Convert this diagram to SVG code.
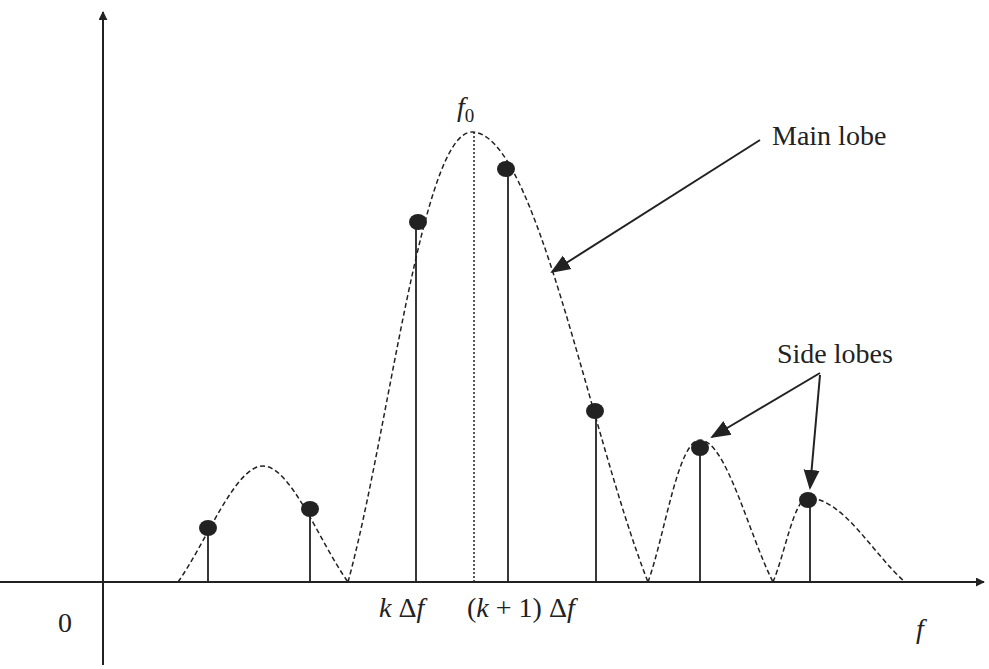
<svg xmlns="http://www.w3.org/2000/svg" width="989" height="669" viewBox="0 0 989 669">
<style>
.ax{stroke:#222;stroke-width:2;fill:none}
.lobe{stroke:#222;stroke-width:1.5;fill:none;stroke-dasharray:5,3}
.stem{stroke:#222;stroke-width:1.8}
.dot{fill:#222}
.t{font-family:"Liberation Serif",serif;font-size:28px;fill:#222}
.i{font-style:italic}
</style>
<defs>
<marker id="ah" viewBox="0 0 10 10" refX="9" refY="5" markerWidth="9" markerHeight="9" orient="auto" markerUnits="userSpaceOnUse"><path d="M0,0 L10,5 L0,10 z" fill="#222"/></marker>
<marker id="ah2" viewBox="0 0 10 10" refX="9" refY="5" markerWidth="20" markerHeight="20" orient="auto" markerUnits="userSpaceOnUse"><path d="M0,1 L10,5 L0,9 z" fill="#222"/></marker>
</defs>
<g id="axes">
<line class="ax" x1="103" y1="665" x2="103" y2="12" marker-end="url(#ah)"/>
<line class="ax" x1="0" y1="582" x2="984" y2="582" marker-end="url(#ah)"/>
<text class="t" x="58" y="632">0</text>
<text class="t i" x="916" y="638">f</text>
<text class="t" x="379" y="617"><tspan class="i">k</tspan> Δ<tspan class="i">f</tspan></text>
<text class="t" x="467" y="617">(<tspan class="i">k</tspan> + 1) Δ<tspan class="i">f</tspan></text>
<text class="t" x="457" y="116"><tspan class="i">f</tspan><tspan font-size="19" dy="6">0</tspan></text>
</g>
<g id="lobes">
<path class="lobe" d="M178,582 C206,543 235,466 263,466 C291,466 320,543 348,582"/>
<path class="lobe" d="M348,582 C389,432 422,132 472,132 C536,132 589,432 648,582"/>
<path class="lobe" d="M648,582 C665,535 678,440 700,440 C726,440 749,535 773,582"/>
<path class="lobe" d="M773,582 C785,554 794,498 808,498 C843,498 873,554 905,582"/>
<line x1="474" y1="132" x2="474" y2="582" stroke="#222" stroke-width="1.5" stroke-dasharray="2,2"/>
</g>
<g id="stems">
<line class="stem" x1="208" y1="528" x2="208" y2="582"/><ellipse class="dot" cx="208" cy="528" rx="9" ry="8"/>
<line class="stem" x1="310" y1="509" x2="310" y2="582"/><ellipse class="dot" cx="310" cy="509" rx="9" ry="8"/>
<line class="stem" x1="416" y1="222" x2="416" y2="582"/><ellipse class="dot" cx="418" cy="222" rx="9" ry="8"/>
<line class="stem" x1="508" y1="169" x2="508" y2="582"/><ellipse class="dot" cx="506" cy="169" rx="9" ry="8"/>
<line class="stem" x1="596" y1="411" x2="596" y2="582"/><ellipse class="dot" cx="595" cy="411" rx="9" ry="8"/>
<line class="stem" x1="700" y1="448" x2="700" y2="582"/><ellipse class="dot" cx="700" cy="448" rx="9" ry="8"/>
<line class="stem" x1="810" y1="500" x2="810" y2="582"/><ellipse class="dot" cx="808" cy="500" rx="9" ry="8"/>
</g>
<g id="labels">
<text class="t" x="772" y="145">Main lobe</text>
<text class="t" x="777" y="363">Side lobes</text>
</g>
<g id="connectors">
<line class="ax" x1="760" y1="140" x2="552" y2="272" marker-end="url(#ah2)"/>
<line class="ax" x1="820" y1="373" x2="712" y2="437" marker-end="url(#ah2)"/>
<line class="ax" x1="820" y1="375" x2="810" y2="488" marker-end="url(#ah2)"/>
</g>
</svg>
